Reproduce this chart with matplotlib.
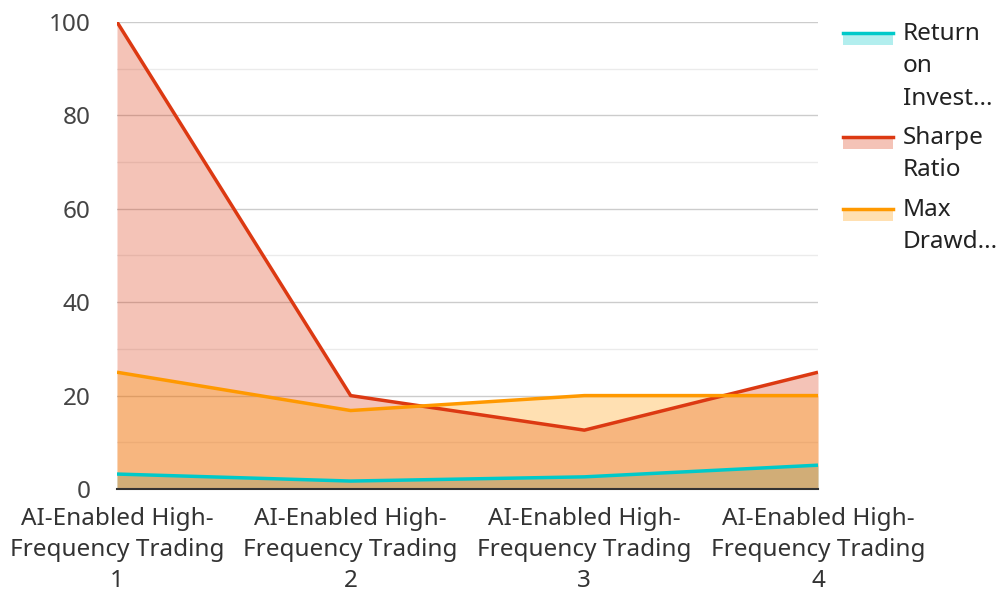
import matplotlib.pyplot as plt
from matplotlib.patches import Rectangle
from matplotlib.lines import Line2D

plt.rcParams['font.family'] = ['Noto Sans', 'DejaVu Sans']

categories = ["AI-Enabled High-\nFrequency Trading\n1", "AI-Enabled High-\nFrequency Trading\n2",
              "AI-Enabled High-\nFrequency Trading\n3", "AI-Enabled High-\nFrequency Trading\n4"]
roi = [3.2, 1.7, 2.6, 5.1]
sharpe = [100, 20, 12.6, 25]
drawdown = [25, 16.8, 20, 20]

series = [("Return\non\nInvest...", roi, "#00c9c9"),
          ("Sharpe\nRatio", sharpe, "#dc3912"),
          ("Max\nDrawd...", drawdown, "#ff9900")]

fig = plt.figure(figsize=(10, 5.91), dpi=100)
ax = fig.add_axes([0.117, 0.1726, 0.701, 0.7902])
x = list(range(len(categories)))

for name, vals, col in series:
    ax.fill_between(x, 0, vals, color=col, alpha=0.3, linewidth=0, zorder=2)
for name, vals, col in series:
    ax.plot(x, vals, color=col, linewidth=2.5, zorder=3, solid_capstyle='butt')

ax.set_xlim(0, 3)
ax.set_ylim(0, 100)
ax.set_yticks([0, 20, 40, 60, 80, 100])
ax.set_yticks([10, 30, 50, 70, 90], minor=True)
ax.grid(axis='y', which='major', color='#cccccc', linewidth=1, zorder=1)
ax.grid(axis='y', which='minor', color='#ebebeb', linewidth=1, zorder=1)
ax.set_xticks(x)
ax.set_xticklabels(categories, fontsize=17.5, color='#333333', linespacing=1.38)
ax.tick_params(axis='y', labelsize=17.5, labelcolor='#444444', length=0, pad=19)
ax.tick_params(axis='x', length=0, pad=13)
ax.tick_params(which='minor', length=0)
for s in ['top', 'right', 'left']:
    ax.spines[s].set_visible(False)
ax.spines['bottom'].set_color('#333333')
ax.spines['bottom'].set_linewidth(1.5)
ax.spines['bottom'].set_zorder(4)

# legend drawn by hand: line on top of a filled swatch, wrapped labels
W, H = 1000, 591
legend_y = [33, 137, 209]
for (name, vals, col), ly in zip(series, legend_y):
    fig.add_artist(Rectangle((843 / W, 1 - (ly + 12) / H), 50 / W, 12 / H,
                             transform=fig.transFigure, color=col, alpha=0.3, linewidth=0))
    fig.add_artist(Line2D([843 / W, 893 / W], [1 - ly / H, 1 - ly / H],
                          transform=fig.transFigure, color=col, linewidth=2.5))
    fig.text(903 / W, 1 - (ly - 11) / H, name, fontsize=17.5, color='#222222',
             va='top', ha='left', linespacing=1.47)

fig.savefig('out.png', dpi=100)
